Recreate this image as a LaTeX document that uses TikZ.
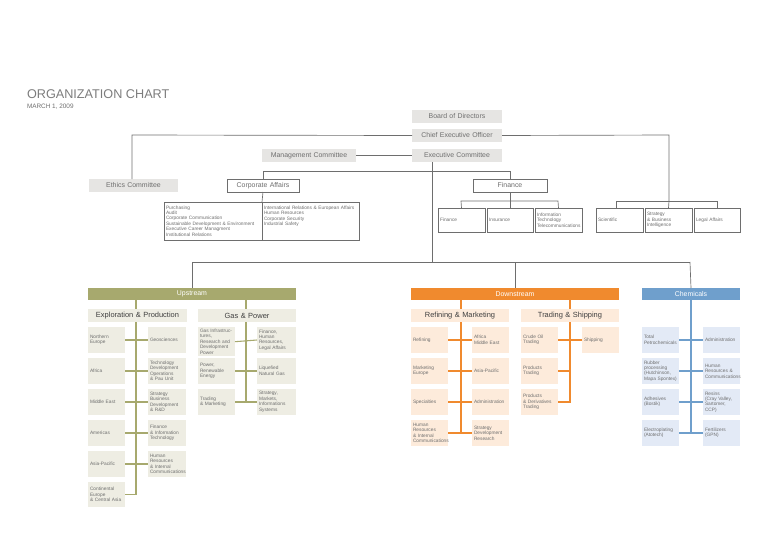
\documentclass[tikz,border=0pt]{standalone}
\usepackage{fontspec}
\setmainfont{Liberation Sans}
\definecolor{tx}{HTML}{6E6E6E}
\definecolor{gb}{HTML}{E6E5E3}
\definecolor{ol}{HTML}{A7A96E}
\definecolor{olf}{HTML}{EEEDE3}
\definecolor{orl}{HTML}{F08A2E}
\definecolor{orf}{HTML}{FDEBDB}
\definecolor{bl}{HTML}{6F9FCC}
\definecolor{blf}{HTML}{E3EAF6}
\newcommand\bx[7]{\pgfmathsetmacro\bw{(#4-#2)*0.75}\pgfmathsetmacro\bh{(#5-#3)*0.75}\pgfmathsetmacro\tw{(#4-#2)*0.75-3}%
\node[#6, anchor=north west, minimum width=\bw pt, minimum height=\bh pt, text width=\tw pt] (#1) at (#2,#3) {#7};}
\begin{document}
\begin{tikzpicture}[x=0.75pt,y=-0.75pt,
 every node/.style={inner sep=1.5pt,outer sep=0pt,text=tx,font=\fontsize{3.6}{4.1}\selectfont,align=left},
 gray/.style={fill=gb,align=center,font=\fontsize{5.2}{6}\selectfont},
 wbox/.style={draw=tx,line width=0.5pt,fill=white,align=center,font=\fontsize{5.2}{6}\selectfont},
 wsm/.style={draw=tx,line width=0.5pt,fill=white},
 ln/.style={draw=tx,line width=0.5pt},
 bar/.style={text=white,align=center,font=\fontsize{5.2}{6}\selectfont},
 hd/.style={align=center,font=\fontsize{5.6}{6.5}\selectfont,text=black!75},
 ob/.style={fill=olf}, orb/.style={fill=orf}, bb/.style={fill=blf},
 ol/.style={draw=ol,line width=0.8pt}, orln/.style={draw=orl,line width=0.8pt}, bln/.style={draw=bl,line width=0.8pt}]
\useasboundingbox (0,0) rectangle (768,543);
\node[anchor=base west,inner sep=0pt,font=\fontsize{9.5}{10}\selectfont,text=tx!90] (title) at (27,98) {ORGANIZATION CHART};
\node[anchor=base west,inner sep=0pt,font=\fontsize{4.8}{5}\selectfont] (date) at (27,108) {MARCH 1, 2009};
% top
\bx{bod}{412}{110}{502}{123}{gray}{Board of Directors}
\bx{ceo}{412}{129}{502}{142}{gray}{Chief Executive Officer}
\bx{mgmt}{262}{149}{356}{162}{gray}{Management Committee}
\bx{exec}{412}{149}{502}{162}{gray}{Executive Committee}
\bx{eth}{89}{179}{178}{192}{gray}{Ethics Committee}
\bx{ca}{227}{179}{299}{192}{wbox}{Corporate Affairs}
\bx{fin}{473}{179}{547}{192}{wbox}{Finance}
\bx{cal}{164}{202}{262}{240}{wsm}{Purchasing\\Audit\\Corporate Communication\\Sustainable Development \& Environment\\Executive Career Managment\\Institutional Relations}
\bx{car}{262}{202}{359}{240}{wsm}{International Relations \& European Affairs\\Human Resources\\Corporate Security\\Industrial Safety\\\mbox{}\\\mbox{}}
\bx{f1}{438}{208}{485}{232}{wsm}{Finance}
\bx{f2}{487}{208}{533}{232}{wsm}{Insurance}
\bx{f3}{535}{208}{582}{232}{wsm}{Information\\Technology\\Telecommunications}
\bx{s1}{596}{208}{643}{232}{wsm}{Scientific}
\bx{s2}{645}{208}{692}{232}{wsm}{Strategy\\\& Business\\Intelligence}
\bx{s3}{694}{208}{740}{232}{wsm}{Legal Affairs}
\coordinate (cl) at (132,135); \coordinate (cr) at (669,135);
\draw[ln] (ceo.west) -- (cl) -- (eth.north -| cl);
\draw[ln] (ceo.east) -- (cr) -- (669,201);
\draw[ln] (mgmt.east) -- (exec.west);
\draw[ln] (616,208) -- (616,201) -- (717,201) -- (717,208);
\draw[ln] (s2.north) -- (669,201);
\draw[ln] (ca.north) -- (263,171) -- (510,171) -- (fin.north);
\draw[ln] (ca.south) -- (262,202);
\draw[ln] (fin.south) -- (510,201);
\draw[ln] (f1.north) -- (461,201) -- (558,201) -- (f3.north);
\draw[ln] (f2.north) -- (510,201);
\coordinate (ex) at (432,162);
\draw[ln] (ex) -- (432,262);
\draw[ln] (192,262) -- (690,262);
% bars
\bx{up}{88}{288}{296}{300}{bar,fill=ol}{Upstream}
\bx{dn}{411}{288}{619}{300}{bar,fill=orl}{Downstream}
\bx{ch}{642}{288}{740}{300}{bar,fill=bl}{Chemicals}
\draw[ln] (192,262) -- (up.north); \draw[ln] (515,262) -- (dn.north); \draw[ln] (690,262) -- (ch.north);
% Upstream
\bx{ep}{88}{309}{187}{322}{hd,ob}{Exploration \& Production}
\bx{gp}{198}{309}{296}{322}{hd,ob}{Gas \& Power}
\draw[ol] (136,300) -- (136,309); \draw[ol] (246,300) -- (246,309);
\bx{el1}{88}{327}{125}{353}{ob}{Northern\\Europe}
\bx{el2}{88}{358}{125}{384}{ob}{Africa}
\bx{el3}{88}{389}{125}{415}{ob}{Middle East}
\bx{el4}{88}{420}{125}{446}{ob}{Americas}
\bx{el5}{88}{451}{125}{477}{ob}{Asia-Pacific}
\bx{el6}{88}{482}{125}{507}{ob}{Continental\\Europe\\\& Central Asia}
\bx{er1}{148}{327}{186}{353}{ob}{Geosciences}
\bx{er2}{148}{358}{186}{384}{ob}{Technology\\Development\\Operations\\\& Pau Unit}
\bx{er3}{148}{389}{186}{415}{ob}{Strategy\\Business\\Development\\\& R\&D}
\bx{er4}{148}{420}{186}{446}{ob}{Finance\\\& Information\\Technology}
\bx{er5}{148}{451}{186}{477}{ob}{Human\\Resources\\\& Internal\\Communications}
\draw[ol] (136,322) -- (136,494.5) -- (el6.east);
\foreach \i in {1,...,5}{\draw[ol] (el\i.east) -- (er\i.west);}
\bx{gl1}{198}{327}{235}{353}{ob}{Gas Infrastructures,\\Research and\\Development\\Power}
\bx{gl2}{198}{358}{235}{384}{ob}{Power,\\Renewable\\Energy}
\bx{gl3}{198}{389}{235}{415}{ob}{Trading\\\& Marketing}
\bx{gr1}{257}{327}{296}{353}{ob}{Finance,\\Human\\Resources,\\Legal Affairs}
\bx{gr2}{257}{358}{296}{384}{ob}{Liquefied\\Natural Gas}
\bx{gr3}{257}{389}{296}{415}{ob}{Strategy,\\Markets,\\Informations\\Systems}
\draw[ol] (246,322) -- (246,402);
\foreach \i in {1,2,3}{\draw[ol] (gl\i.east) -- (gr\i.west);}
% Downstream
\bx{rm}{411}{309}{509}{322}{hd,orb}{Refining \& Marketing}
\bx{ts}{521}{309}{619}{322}{hd,orb}{Trading \& Shipping}
\draw[orln] (461,300) -- (461,309); \draw[orln] (570,300) -- (570,309);
\bx{rl1}{411}{327}{448}{353}{orb}{Refining}
\bx{rl2}{411}{358}{448}{384}{orb}{Marketing\\Europe}
\bx{rl3}{411}{389}{448}{415}{orb}{Specialties}
\bx{rl4}{411}{420}{448}{446}{orb}{Human\\Resources\\\& Internal\\Communications}
\bx{rr1}{472}{327}{509}{353}{orb}{Africa\\Middle East}
\bx{rr2}{472}{358}{509}{384}{orb}{Asia-Pacific}
\bx{rr3}{472}{389}{509}{415}{orb}{Administration}
\bx{rr4}{472}{420}{509}{446}{orb}{Strategy\\Development\\Research}
\draw[orln] (461,322) -- (461,433);
\foreach \i in {1,...,4}{\draw[orln] (rl\i.east) -- (rr\i.west);}
\bx{tl1}{521}{327}{558}{353}{orb}{Crude Oil\\Trading}
\bx{tl2}{521}{358}{558}{384}{orb}{Products\\Trading}
\bx{tl3}{521}{389}{558}{415}{orb}{Products\\\& Derivatives\\Trading}
\bx{tr1}{582}{327}{619}{353}{orb}{Shipping}
\draw[orln] (570,322) -- (570,402) -- (tl3.east);
\draw[orln] (tl1.east) -- (tr1.west); \draw[orln] (tl2.east) -- (570,371);
% Chemicals
\bx{cl1}{642}{327}{679}{353}{bb}{Total\\Petrochemicals}
\bx{cl2}{642}{358}{679}{384}{bb}{Rubber\\processing\\(Hutchinson,\\Mapa Spontex)}
\bx{cl3}{642}{389}{679}{415}{bb}{Adhesives\\(Bostik)}
\bx{cl4}{642}{420}{679}{446}{bb}{Electroplating\\(Atotech)}
\bx{cr1}{703}{327}{740}{353}{bb}{Administration}
\bx{cr2}{703}{358}{740}{384}{bb}{Human\\Resources \&\\Communications}
\bx{cr3}{703}{389}{740}{415}{bb}{Resins\\(Cray Valley,\\Sartomer, CCP)}
\bx{cr4}{703}{420}{740}{446}{bb}{Fertilizers\\(GPN)}
\draw[bln] (691,300) -- (691,433);
\foreach \i in {1,...,4}{\draw[bln] (cl\i.east) -- (cr\i.west);}
\end{tikzpicture}
\end{document}
